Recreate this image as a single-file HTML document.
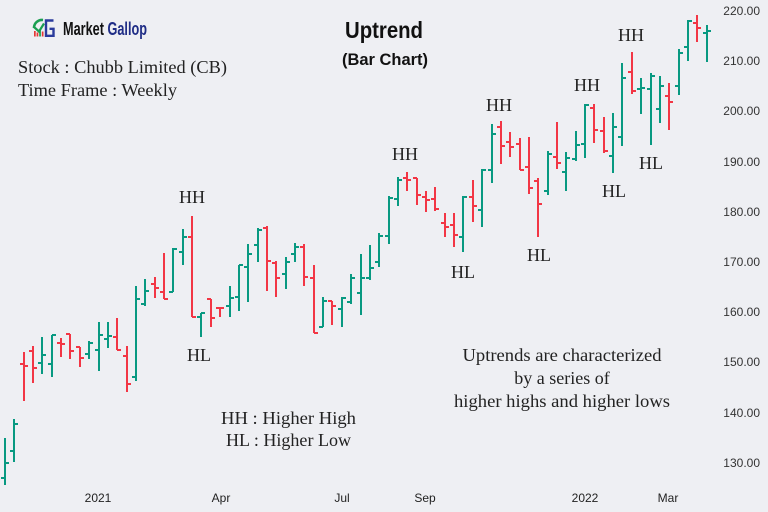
<!DOCTYPE html>
<html>
<head>
<meta charset="utf-8">
<style>
  html, body { margin: 0; padding: 0; background: #eeeff3; }
  svg { display: block; }
  .ax { font-family: "Liberation Sans", sans-serif; font-size: 12px; fill: #333; }
  .xl { font-family: "Liberation Sans", sans-serif; font-size: 12px; fill: #222; }
  .sf { font-family: "Liberation Serif", serif; font-size: 18px; fill: #222; }
  .tt { font-family: "Liberation Sans", sans-serif; font-weight: bold; fill: #111; }
</style>
</head>
<body>
<svg width="768" height="512" viewBox="0 0 768 512" xmlns="http://www.w3.org/2000/svg">
  <rect x="0" y="0" width="768" height="512" fill="#eeeff3"/>

  <!-- Logo -->
  <g>
    <path d="M43 20 A8 8 0 0 0 34 28" stroke="#1a9e50" stroke-width="2.6" fill="none"/>
    <path d="M34 27 L39 31.5 L44 23.5" stroke="#1a9e50" stroke-width="2.2" fill="none"/>
    <rect x="34" y="31" width="1.7" height="5.5" fill="#e53935"/>
    <rect x="36.6" y="32.5" width="1.7" height="4" fill="#e53935"/>
    <rect x="39.2" y="30.5" width="1.7" height="6" fill="#1a9e50"/>
    <rect x="41.8" y="31.5" width="1.7" height="5" fill="#e53935"/>
    <path d="M53.5 20.5 H46 V35.8 H53.5 V28.8 H49.5" stroke="#2a3b9c" stroke-width="2.4" fill="none"/>
    <text x="63" y="35" class="tt" font-size="18" textLength="84" lengthAdjust="spacingAndGlyphs"><tspan fill="#111">Market </tspan><tspan fill="#1f2d86">Gallop</tspan></text>
  </g>

  <!-- Title -->
  <text x="384" y="38" class="tt" font-size="23" text-anchor="middle" textLength="78" lengthAdjust="spacingAndGlyphs">Uptrend</text>
  <text x="385" y="65" class="tt" font-size="17" text-anchor="middle" textLength="86" lengthAdjust="spacingAndGlyphs">(Bar Chart)</text>

  <!-- Stock info -->
  <text x="18" y="73" class="sf" textLength="209" lengthAdjust="spacingAndGlyphs">Stock : Chubb Limited (CB)</text>
  <text x="18" y="96" class="sf" textLength="159" lengthAdjust="spacingAndGlyphs">Time Frame : Weekly</text>

  <!-- Y axis labels -->
  <g class="ax" text-anchor="end">
    <text x="760" y="15">220.00</text>
    <text x="760" y="65">210.00</text>
    <text x="760" y="115">200.00</text>
    <text x="760" y="166">190.00</text>
    <text x="760" y="216">180.00</text>
    <text x="760" y="266">170.00</text>
    <text x="760" y="316">160.00</text>
    <text x="760" y="366">150.00</text>
    <text x="760" y="417">140.00</text>
    <text x="760" y="467">130.00</text>
  </g>

  <!-- X axis labels -->
  <g class="xl" text-anchor="middle">
    <text x="98" y="502">2021</text>
    <text x="221" y="502">Apr</text>
    <text x="342" y="502">Jul</text>
    <text x="425" y="502">Sep</text>
    <text x="585" y="502">2022</text>
    <text x="668" y="502">Mar</text>
  </g>

  <!-- Green bars -->
  <path fill="none" stroke="#089981" stroke-width="2" d="
M5 438V485M1 478H5M5 463H9
M14 419V462M10 451H14M14 424H18
M42 337V374M38 363H42M42 355H46
M52 335V377M48 364H52M52 335H56
M89 341V359M85 354H89M89 343H93
M99 322V371M95 350H99M99 335H103
M108 322V348M104 339H108M108 336H112
M136 286V381M132 377H136M136 299H140
M145 279V306M141 304H145M145 291H149
M173 248V292M169 292H173M173 249H177
M183 229V265M179 252H183M183 237H187
M201 313V337M197 317H201M201 313H205
M230 286V317M226 306H230M230 298H234
M239 265V311M235 297H239M239 265H243
M248 244V302M244 267H248M248 254H252
M258 228V262M254 245H258M258 230H262
M286 257V289M282 274H286M286 262H290
M295 243V262M291 254H295M295 247H299
M323 297V327M319 327H323M323 301H327
M342 297V327M338 309H342M342 298H346
M351 274V304M347 302H351M351 278H355
M361 254V315M357 293H361M361 278H365
M370 245V280M366 278H370M370 268H374
M379 233V267M375 262H379M379 236H383
M389 196V244M385 236H389M389 198H393
M398 177V206M394 199H398M398 180H402
M463 196V252M459 237H463M463 197H467
M482 169V227M478 210H482M482 170H486
M492 124V183M488 170H492M492 134H496
M548 151V195M544 191H548M548 154H552
M566 152V191M562 172H566M566 158H570
M576 131V161M572 159H576M576 145H580
M585 104V158M581 144H585M585 105H589
M613 113V173M609 156H613M613 127H617
M622 63V146M618 137H622M622 78H626
M641 78V114M637 89H641M641 88H645
M651 73V145M647 89H651M651 76H655
M660 76V123M656 109H660M660 86H664
M679 49V95M675 86H679M679 53H683
M688 20V61M684 47H688M688 21H692
M707 25V62M703 33H707M707 31H711"/>

  <!-- Red bars -->
  <path fill="none" stroke="#f23645" stroke-width="2" d="
M24 352V401M20 364H24M24 366H28
M33 346V383M29 351H33M33 368H37
M61 338V357M57 343H61M61 344H65
M70 334V359M66 334H70M70 351H74
M80 347V367M76 347H80M80 358H84
M117 318V350M113 337H117M117 350H121
M127 346V392M123 356H127M127 384H131
M155 277V298M151 284H155M155 288H159
M164 253V299M160 292H164M164 299H168
M192 216V317M188 237H192M192 317H196
M211 299V327M207 299H211M211 318H215
M220 307V317M216 308H220M220 308H224
M267 226V291M263 228H267M267 261H271
M276 261V297M272 263H276M276 278H280
M304 244V286M300 247H304M304 277H308
M314 265V333M310 278H314M314 333H318
M332 301V325M328 301H332M332 306H336
M407 172V191M403 178H407M407 180H411
M417 178V205M413 178H417M417 195H421
M426 191V212M422 197H426M426 200H430
M435 187V211M431 199H435M435 209H439
M445 213V237M441 223H445M445 227H449
M454 213V247M450 225H454M454 235H458
M473 180V222M469 197H473M473 206H477
M501 121V164M497 127H501M501 146H505
M510 132V157M506 142H510M510 147H514
M520 138V170M516 144H520M520 170H524
M529 137V194M525 167H529M529 188H533
M538 178V237M534 181H538M538 204H542
M557 122V169M553 157H557M557 163H561
M594 104V143M590 108H594M594 130H598
M604 117V153M600 131H604M604 151H608
M632 52V94M628 72H632M632 91H636
M669 83V130M665 96H669M669 102H673
M697 15V42M693 23H697M697 28H701"/>

  <!-- HH / HL annotations -->
  <g class="sf" text-anchor="middle">
    <text x="192" y="203">HH</text>
    <text x="199" y="361">HL</text>
    <text x="405" y="160">HH</text>
    <text x="463" y="278">HL</text>
    <text x="499" y="111">HH</text>
    <text x="539" y="261">HL</text>
    <text x="587" y="91">HH</text>
    <text x="614" y="197">HL</text>
    <text x="631" y="41">HH</text>
    <text x="651" y="169">HL</text>
  </g>

  <!-- Legend text -->
  <g class="sf" text-anchor="middle">
    <text x="288.5" y="424" textLength="135" lengthAdjust="spacingAndGlyphs">HH : Higher High</text>
    <text x="288.5" y="446" textLength="125" lengthAdjust="spacingAndGlyphs">HL : Higher Low</text>
  </g>

  <!-- Description -->
  <g class="sf" text-anchor="middle">
    <text x="562" y="361" textLength="199" lengthAdjust="spacingAndGlyphs">Uptrends are characterized</text>
    <text x="562" y="384">by a series of</text>
    <text x="562" y="407" textLength="216" lengthAdjust="spacingAndGlyphs">higher highs and higher lows</text>
  </g>
</svg>
</body>
</html>
